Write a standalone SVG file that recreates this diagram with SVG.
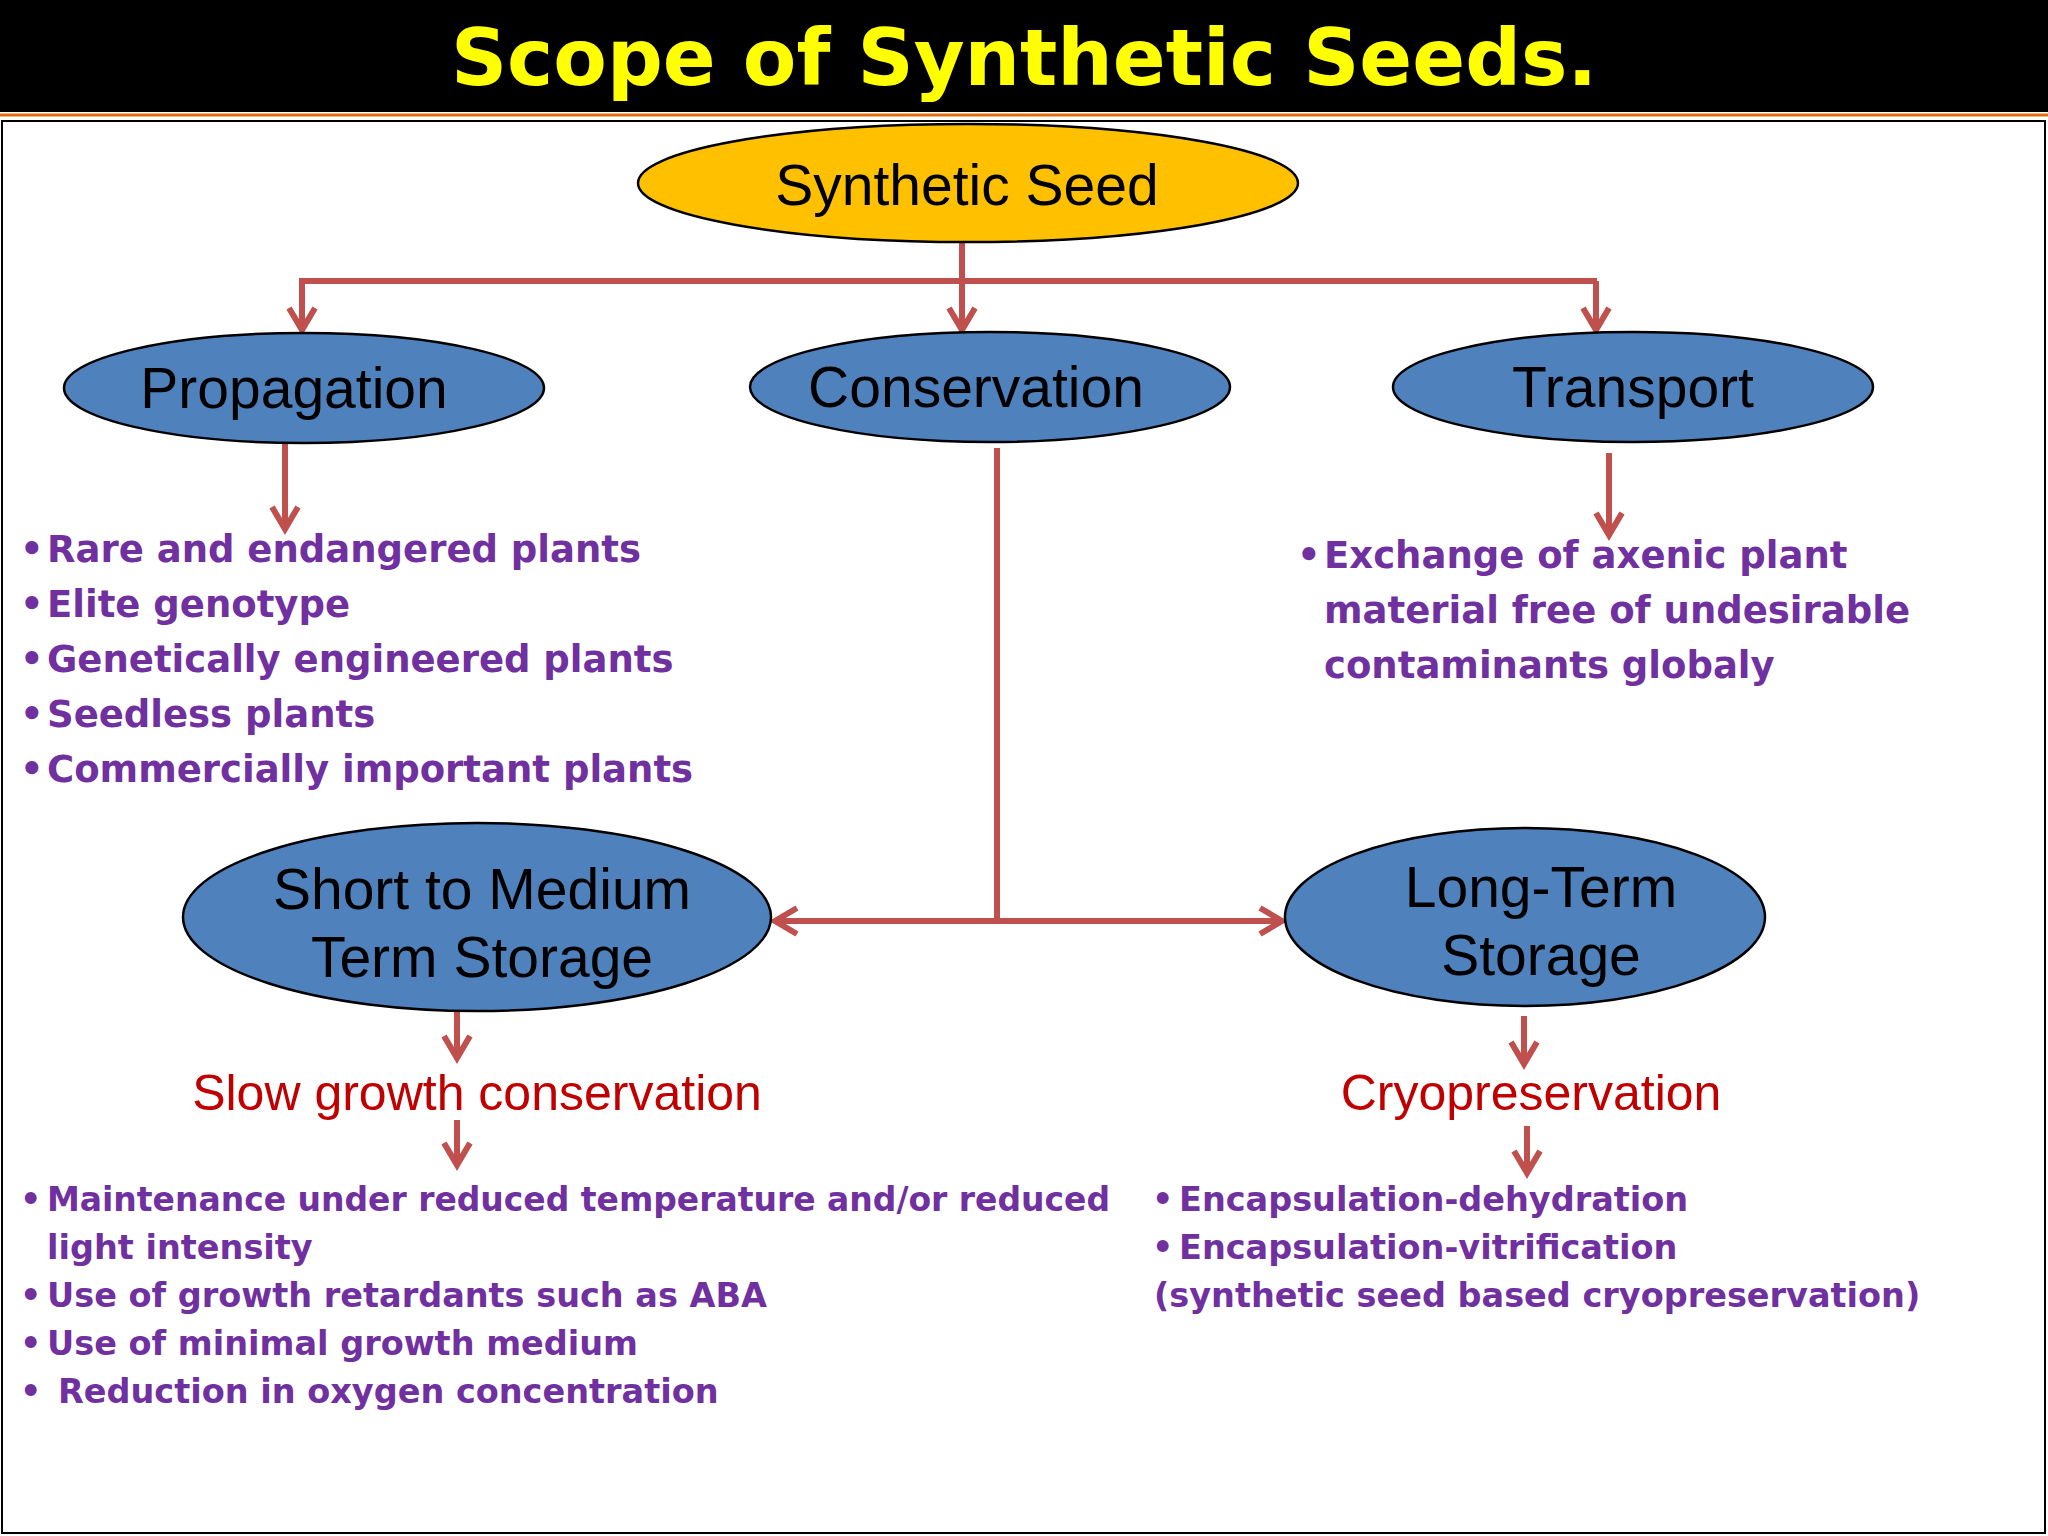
<svg xmlns="http://www.w3.org/2000/svg" width="2048" height="1536" viewBox="0 0 2048 1536">
<style>
.el{fill:#4F81BD;stroke:#000;stroke-width:2.5}
.et{font-family:"Liberation Sans",Arial,sans-serif;font-size:57px;text-anchor:middle;fill:#000}
.b{font-family:"DejaVu Sans",Verdana,sans-serif;font-weight:bold;fill:#7030A0}
.b1{font-size:37px}
.b2{font-size:33.5px}
.red{font-family:"Liberation Sans",Arial,sans-serif;font-size:50px;fill:#C00000;text-anchor:middle}
.c{stroke:#C0504D;stroke-width:6;fill:none}
</style>
<defs>
<marker id="a" markerWidth="34" markerHeight="34" refX="28" refY="17" orient="auto" markerUnits="userSpaceOnUse">
<path d="M6,4 L28,17 L6,30" fill="none" stroke="#C0504D" stroke-width="6"/>
</marker>
</defs>
<rect width="2048" height="1536" fill="#fff"/>
<rect x="0" y="0" width="2048" height="112" fill="#000"/>
<line x1="0" y1="115" x2="2048" y2="115" stroke="#E46C0A" stroke-width="3"/>
<rect x="2" y="121" width="2043" height="1412" fill="none" stroke="#000" stroke-width="2"/>
<text x="1024" y="85" font-family="DejaVu Sans,Verdana,sans-serif" font-weight="bold" font-size="78" fill="#FFFF00" text-anchor="middle">Scope of Synthetic Seeds.</text>
<g id="connectors">
<path class="c" d="M299,281 H1597"/>
<path class="c" d="M962,242 V281"/>
<path class="c" d="M302,281 V330" marker-end="url(#a)"/>
<path class="c" d="M962,281 V330" marker-end="url(#a)"/>
<path class="c" d="M1596,281 V330" marker-end="url(#a)"/>
<path class="c" d="M285,441 V529" marker-end="url(#a)"/>
<path class="c" d="M1609,453 V535" marker-end="url(#a)"/>
<path class="c" d="M997,448 V921"/>
<path class="c" d="M997,921 H775" marker-end="url(#a)"/>
<path class="c" d="M997,921 H1282" marker-end="url(#a)"/>
<path class="c" d="M457,1012 V1058" marker-end="url(#a)"/>
<path class="c" d="M457,1120 V1165" marker-end="url(#a)"/>
<path class="c" d="M1524,1016 V1064" marker-end="url(#a)"/>
<path class="c" d="M1527,1126 V1173" marker-end="url(#a)"/>
</g>
<g id="seed"><ellipse cx="968" cy="183" rx="330" ry="59" fill="#FFC000" stroke="#000" stroke-width="2.5"/><text class="et" x="967" y="205" font-size="78">Synthetic Seed</text></g>
<g id="propagation"><ellipse class="el" cx="304" cy="388" rx="240" ry="55"/><text class="et" x="294" y="408">Propagation</text></g>
<g id="conservation"><ellipse class="el" cx="990" cy="387" rx="240" ry="55"/><text class="et" x="976" y="407">Conservation</text></g>
<g id="transport"><ellipse class="el" cx="1633" cy="387" rx="240" ry="55"/><text class="et" x="1633" y="407">Transport</text></g>
<g id="short"><ellipse class="el" cx="477" cy="917" rx="294" ry="94"/><text class="et" x="482" y="909">Short to Medium</text><text class="et" x="482" y="977">Term Storage</text></g>
<g id="long"><ellipse class="el" cx="1525" cy="917" rx="240" ry="89"/><text class="et" x="1541" y="907">Long-Term</text><text class="et" x="1541" y="975">Storage</text></g>
<g id="prop-list" class="b b1">
<text x="20" y="562">•</text><text x="47" y="562">Rare and endangered plants</text>
<text x="20" y="617">•</text><text x="47" y="617">Elite genotype</text>
<text x="20" y="672">•</text><text x="47" y="672">Genetically engineered plants</text>
<text x="20" y="727">•</text><text x="47" y="727">Seedless plants</text>
<text x="20" y="782">•</text><text x="47" y="782">Commercially important plants</text>
</g>
<g id="transport-list" class="b b1">
<text x="1297" y="568">•</text><text x="1324" y="568">Exchange of axenic plant</text>
<text x="1324" y="623">material free of undesirable</text>
<text x="1324" y="678">contaminants globaly</text>
</g>
<text class="red" x="477" y="1110">Slow growth conservation</text>
<text class="red" x="1531" y="1110">Cryopreservation</text>
<g id="slow-list" class="b b2">
<text x="20" y="1211">•</text><text x="47" y="1211" textLength="1063" lengthAdjust="spacingAndGlyphs">Maintenance under reduced temperature and/or reduced</text>
<text x="47" y="1259">light intensity</text>
<text x="20" y="1307">•</text><text x="47" y="1307">Use of growth retardants such as ABA</text>
<text x="20" y="1355">•</text><text x="47" y="1355">Use of minimal growth  medium</text>
<text x="20" y="1403">•</text><text x="58" y="1403">Reduction in oxygen concentration</text>
</g>
<g id="cryo-list" class="b b2">
<text x="1152" y="1211">•</text><text x="1179" y="1211">Encapsulation-dehydration</text>
<text x="1152" y="1259">•</text><text x="1179" y="1259">Encapsulation-vitrification</text>
<text x="1154" y="1307">(synthetic seed based cryopreservation)</text>
</g>
</svg>
